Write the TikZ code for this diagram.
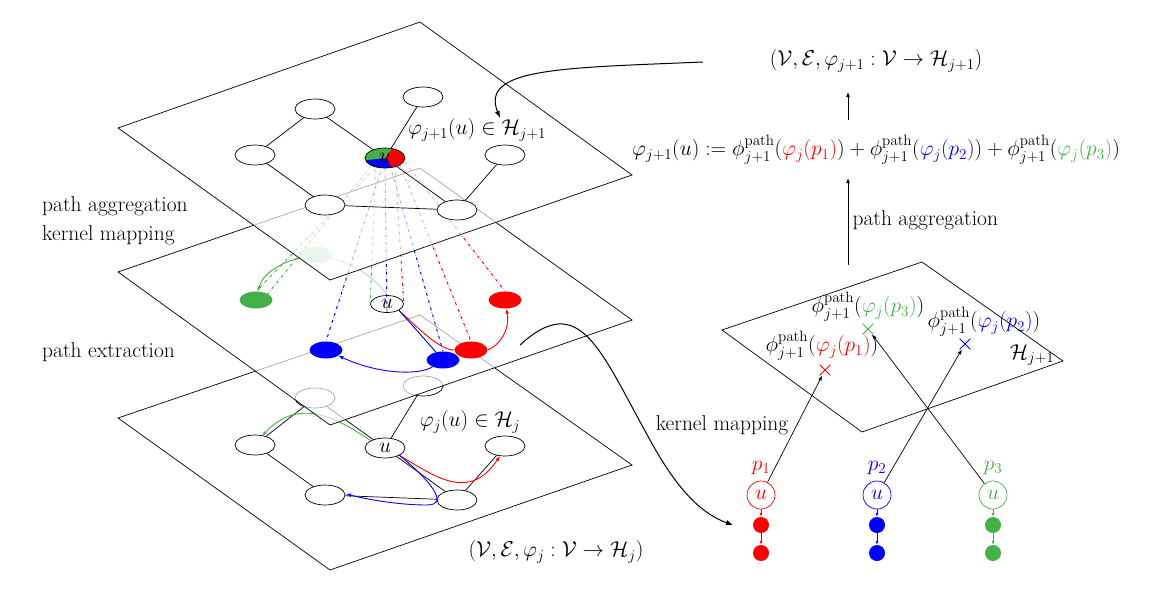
\RequirePackage{fix-cm}
\documentclass[tikz,border=0pt]{standalone}
\usepackage{amsmath,amssymb}
\usetikzlibrary{shapes.geometric,shapes.misc,arrows.meta}
\definecolor{gr}{RGB}{68,176,72}
\definecolor{rd}{RGB}{255,0,0}
\definecolor{bl}{RGB}{0,0,255}
\begin{document}
\begin{tikzpicture}[x=1pt,y=-1pt,font=\fontsize{21.5}{25}\selectfont,
  plane/.style={draw=black,fill=white,fill opacity=0.66,line width=0.7pt},
  gnode/.style={ellipse,draw,fill=white,minimum width=40pt,minimum height=20pt,inner sep=0pt,line width=0.7pt},
  mnode/.style={ellipse,minimum width=33pt,minimum height=17pt,inner sep=0pt},
  gedge/.style={line width=0.7pt},
  arr/.style={-{Latex[length=5pt]},line width=0.9pt},
  dd/.style={dash dot,line width=0.9pt},
  pnode/.style={circle,draw,minimum size=28pt,inner sep=0pt,line width=0.7pt},
  dot/.style={circle,minimum size=16pt,inner sep=0pt},
  cross/.style={cross out,draw,minimum size=10pt,inner sep=0pt,line width=0.8pt},
  bigarr/.style={-{Latex[length=7pt]},line width=1pt}]
\useasboundingbox (0,0) rectangle (1172,589);
% ---------- bottom plane ----------
\draw[plane,fill opacity=1] (118,418) -- (420,315) -- (632,465) -- (330,570) -- cycle;
\node[gnode] (b1) at (315,398) {};
\node[gnode] (b2) at (423,386) {};
\node[gnode] (b3) at (255,445) {};
\node[gnode] (bu) at (385,448) {$u$};
\node[gnode] (b5) at (505,446) {};
\node[gnode] (b6) at (325,495) {};
\node[gnode] (b7) at (457,500) {};
\draw[gedge] (b1)--(b3) (b1)--(bu) (b2)--(bu) (b3)--(b6) (b6)--(b7) (bu)--(b7) (b5)--(b7);
\draw[arr,gr] (bu.north west) .. controls (340,420) and (300,395) .. (262,436);
\draw[arr,rd] (bu.south east) .. controls (440,480) and (470,500) .. (500,456);
\draw[arr,bl] (bu.south east) .. controls (430,480) and (450,505) .. (427,505) .. controls (400,505) and (370,500) .. (346,494);
\node at (470,422) {$\varphi_j(u)\in\mathcal{H}_j$};
\node at (556,552) {$(\mathcal{V},\mathcal{E},\varphi_j:\mathcal{V}\to\mathcal{H}_j)$};
% ---------- middle plane ----------
\draw[plane] (118,272) -- (420,168) -- (632,320) -- (330,425) -- cycle;
\node[mnode,draw,fill=white,line width=0.7pt] (mu) at (387,304) {$u$};
\node[mnode,fill=gr!30] (g1) at (316,255) {};
\node[mnode,fill=gr] (g2) at (256,300) {};
\node[mnode,fill=rd] (r1) at (471,350) {};
\node[mnode,fill=rd] (r2) at (505,300) {};
\node[mnode,fill=bl] (bb1) at (443,360) {};
\node[mnode,fill=bl] (bb2) at (326,350) {};
\draw[gr!40,line width=0.9pt] (mu.north) .. controls (370,270) and (340,260) .. (g1);
\draw[arr,gr] (g1) .. controls (280,262) and (262,275) .. (g2);
\draw[rd,line width=0.9pt] (mu.south east) .. controls (420,330) and (440,350) .. (r1);
\draw[arr,rd] (r1.east) .. controls (500,345) and (510,330) .. (r2);
\draw[bl,line width=0.9pt] (mu.south east) -- (bb1);
\draw[arr,bl] (bb1) .. controls (420,375) and (380,375) .. (bb2);
% dashed lines from top u
\coordinate (tu) at (385,158);
\draw[dd,gr] (tu) -- (g2.north) (376,160) -- (g2.north east) (376,162) -- (mu.west);
\draw[dd,bl] (tu) -- (bb2.north) (385,168) -- (mu.south) (390,165) -- (bb1.north);
\draw[dd,rd] (395,165) -- (mu.east) (400,165) -- (r1.north) (405,162) -- (r2.north);
% ---------- top plane ----------
\draw[plane] (118,128) -- (420,22) -- (632,175) -- (330,280) -- cycle;
\node[gnode] (t1) at (315,109) {};
\node[gnode] (t2) at (423,97) {};
\node[gnode] (t3) at (255,155) {};
\node[gnode,draw=none,fill=none] (tu0) at (385,158) {};
\node[gnode] (t5) at (505,155) {};
\node[gnode] (t6) at (325,205) {};
\node[gnode] (t7) at (457,210) {};
\draw[gedge] (t1)--(t3) (t1)--(tu0) (t2)--(tu0) (t3)--(t6) (t6)--(t7) (tu0)--(t7) (t5)--(t7);
\begin{scope}
\clip (385,158) ellipse [x radius=20, y radius=10];
\fill[gr] (360,145) rectangle (410,171);
\fill[rd] (385,158) -- (395,145) -- (410,145) -- (410,171) -- (395,171) -- cycle;
\fill[bl] (385,158) -- (360,161) -- (360,171) -- (395,171) -- cycle;
\end{scope}
\draw[line width=0.7pt] (385,158) ellipse [x radius=20, y radius=10];
\node at (385,158) {$u$};
\node at (477,130) {$\varphi_{j+1}(u)\in\mathcal{H}_{j+1}$};
% ---------- left labels ----------
\node[anchor=west,inner sep=0pt] at (42,206) {path aggregation};
\node[anchor=west,inner sep=0pt] at (42,235) {kernel mapping};
\node[anchor=west,inner sep=0pt] at (42,352) {path extraction};
% ---------- right side ----------
\node (top) at (876,61) {$(\mathcal{V},\mathcal{E},\varphi_{j+1}:\mathcal{V}\to\mathcal{H}_{j+1})$};
\node (form) at (876,150) {$\varphi_{j+1}(u):=\phi^{\mathrm{path}}_{j+1}({\color{rd}\varphi_j(p_1)})+\phi^{\mathrm{path}}_{j+1}({\color{bl}\varphi_j(p_2)})+\phi^{\mathrm{path}}_{j+1}({\color{gr}\varphi_j(p_3)})$};
\coordinate (a1s) at (848,120); \coordinate (a1e) at (848,92);
\draw[arr,line width=0.7pt] (a1s) -- (a1e);
\coordinate (a2s) at (848,265); \coordinate (a2e) at (848,178);
\draw[arr,line width=0.7pt] (a2s) -- (a2e);
\node[anchor=west] at (849,220) {path aggregation};
\coordinate (c1s) at (703,62); \coordinate (c1e) at (500,118);
\draw[bigarr] (c1s) .. controls (560,68) and (480,68) .. (c1e);
\coordinate (c2s) at (520,345); \coordinate (c2e) at (733,525);
\draw[bigarr] (c2s) .. controls (580,290) and (600,350) .. (650,440) .. controls (680,495) and (705,515) .. (c2e);
\node[fill=white,inner sep=1pt] at (722,425) {kernel mapping};
% right plane
\draw[line width=0.7pt] (722,330) -- (922,262) -- (1063,361) -- (862,432) -- cycle;
\node[cross,rd] (x1) at (825,370) {};
\node[cross,gr] (x3) at (868,329) {};
\node[cross,bl] (x2) at (965,344) {};
\node at (822,346) {$\phi^{\mathrm{path}}_{j+1}({\color{rd}\varphi_j(p_1)})$};
\node at (868,307) {$\phi^{\mathrm{path}}_{j+1}({\color{gr}\varphi_j(p_3)})$};
\node at (984,322) {$\phi^{\mathrm{path}}_{j+1}({\color{bl}\varphi_j(p_2)})$};
\node at (1032,355) {$\mathcal{H}_{j+1}$};
% paths
\foreach \c/\x/\i in {rd/761/1,bl/877/2,gr/993/3}{
  \node[pnode,\c] (u\i) at (\x,495) {$u$};
  \node[\c] at (\x,468) {$p_\i$};
  \node[dot,fill=\c] (d\i) at (\x,525) {};
  \node[dot,fill=\c] (e\i) at (\x,553) {};
  \draw[\c,-{Latex[length=4pt]},line width=0.7pt] (u\i) -- (d\i);
  \draw[\c,-{Latex[length=4pt]},line width=0.7pt] (d\i) -- (e\i);
}
\draw[arr,line width=0.7pt] (u1) -- (x1);
\draw[arr,line width=0.7pt] (u2) -- (x2);
\draw[arr,line width=0.7pt] (u3) -- (x3);
\end{tikzpicture}
\end{document}
